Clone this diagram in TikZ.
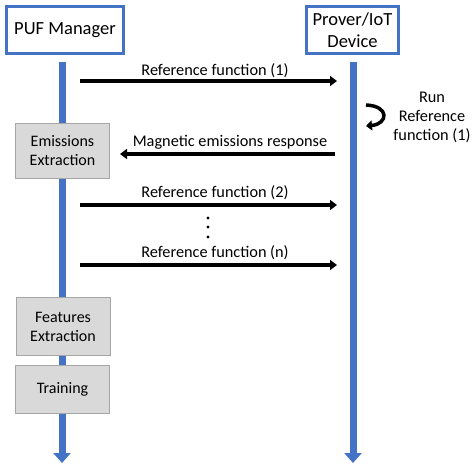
\documentclass[tikz,border=0pt]{standalone}
\usepackage{fontspec}
\setmainfont{Carlito}
\usetikzlibrary{arrows.meta}
\usetikzlibrary{positioning}

\definecolor{lifeblue}{HTML}{4472C4}
\definecolor{boxgray}{HTML}{D9D9D9}
\definecolor{edgegray}{HTML}{A6A6A6}

\tikzset{
  headbox/.style={draw=lifeblue, line width=2.5pt, fill=white, align=center,
    inner sep=0pt, minimum height=47pt, font=\fontsize{18.5}{22}\selectfont},
  taskbox/.style={draw=edgegray, line width=1pt, fill=boxgray, align=center,
    inner sep=0pt, minimum width=94pt, font=\fontsize{16}{19}\selectfont},
  lifeline/.style={lifeblue, line width=7pt, -{Triangle[width=17pt,length=10pt]}},
  msg/.style={line width=3.5pt, -{Triangle[width=10pt,length=7pt]}},
  msglabel/.style={font=\fontsize{16.3}{19}\selectfont, inner sep=0pt}
}

\begin{document}
\begin{tikzpicture}[x=1pt, y=-1pt]

\useasboundingbox (0,0) rectangle (474,466);

% the two parties
\node[headbox, minimum width=117pt] (mgr) at (65,30) {PUF Manager};
\node[headbox, minimum width=92pt] (dev) at (352.5,30) {Prover/IoT\\Device};

% lifelines
\coordinate (mTop) at (62,62);
\coordinate (mEnd) at (62,463);
\coordinate (dTop) at (353,62);
\coordinate (dEnd) at (353,463);
\draw[lifeline] (mTop) -- (mEnd);
\draw[lifeline] (dTop) -- (dEnd);

% work on the manager side
\node[taskbox, minimum height=55pt] (extr) at (62.5,151) {Emissions\\Extraction};
\node[taskbox, minimum height=58pt] (feat) at (63,326.5) {Features\\Extraction};
\node[taskbox, minimum height=48pt] (train) at (62.5,389.5) {Training};

% messages
\coordinate (r1A) at (80,81);
\coordinate (r1B) at (337,81);
\coordinate (emA) at (335,154);
\coordinate (emB) at (120,154);
\coordinate (r2A) at (80,205);
\coordinate (r2B) at (337,205);
\coordinate (rnA) at (80,265);
\coordinate (rnB) at (337,265);

\draw[msg] (r1A) -- (r1B);
\draw[msg] (emA) -- (emB);
\draw[msg] (r2A) -- (r2B);
\draw[msg] (rnA) -- (rnB);

\node[msglabel] (r1L) at (215,71) {Reference function (1)};
\node[msglabel] (emL) at (230,142) {Magnetic emissions response};
\node[msglabel] (r2L) at (215,193) {Reference function (2)};
\node[msglabel] (rnL) at (215,253) {Reference function (n)};

% dots between the calls
\fill (208,218) circle (1.6pt);
\fill (208,227) circle (1.6pt);
\fill (208,237) circle (1.6pt);

% device runs the function
\coordinate (runA) at (366,105);
\coordinate (runB) at (366,126);
\draw[line width=3.5pt, -{Triangle[width=10pt,length=6pt]}]
  (runA) .. controls (390,106) and (388,124) .. (runB);
\node[msglabel, align=center] (runL) at (432,117) {Run\\Reference\\function (1)};

\end{tikzpicture}
\end{document}
